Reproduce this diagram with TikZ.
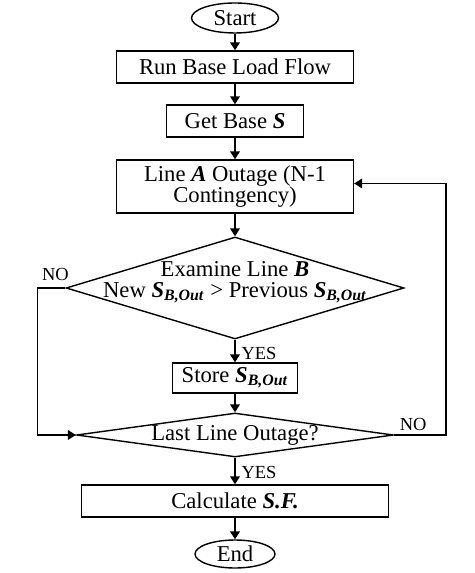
\documentclass[tikz,border=0pt]{standalone}
\usepackage{fontspec}
\setmainfont{Liberation Serif}
\usepackage{tikz}
\usetikzlibrary{positioning,calc,shapes.geometric,arrows.meta}
\newcommand{\bi}[1]{\textbf{\textit{#1}}}
\newcommand{\SBout}{\bi{S}\textsubscript{\bi{B,Out}}}

\begin{document}
\begin{tikzpicture}[
            x=0.02cm, y=-0.02cm,
            font=\fontsize{12.9}{12}\selectfont,
            terminal/.style={draw, ellipse, inner sep=0pt},
            process/.style={draw, rectangle, inner sep=0pt, align=center},
            decision/.style={draw, diamond, inner sep=0pt},
            answer/.style={font=\fontsize{10.5}{12}\selectfont, inner sep=0pt},
            >={Triangle[length=4.5pt,width=5.5pt]},
            thick
        ]
        \useasboundingbox (0,0) rectangle (474,573);

        % Start and base case
        \node[terminal, minimum width=1.74cm, minimum height=0.6cm] (start) at (235,18) {Start};
        \node[process, minimum width=4.74cm, minimum height=0.64cm] (run) at (235,67) {Run Base Load Flow};
        \node[process, minimum width=2.74cm, minimum height=0.64cm] (getbase) at (235,121) {Get Base \bi{S}};

        % Line A outage
        \node[process, minimum width=4.74cm, minimum height=1.06cm] (outage) at (235,186.5) {Line \bi{A} Outage (N-1\\Contingency)};

        % Examine line B
        \node[decision, minimum width=6.76cm, minimum height=2.04cm] (examine) at (235,288) {};
        \node[align=center, inner sep=0pt] (examinetext) at ($(examine) + (0,-6)$)
            {Examine Line \bi{B}\\New \SBout{} > Previous \SBout};

        % Store
        \node[process, minimum width=2.5cm, minimum height=0.6cm] (store) at (235,378) {Store \SBout};

        % Last line check
        \node[decision, minimum width=6.34cm, minimum height=0.88cm] (check) at (235,435) {};
        \node[inner sep=0pt] (checktext) at (check) {Last Line Outage?};

        % End
        \node[process, minimum width=6.14cm, minimum height=0.64cm] (calc) at (235,501) {Calculate \bi{S.F.}};
        \node[terminal, minimum width=1.6cm, minimum height=0.56cm] (end) at (235,554) {End};

        % Labels on the branches
        \node[answer] (yesstore) at ($(examine.south) + (24,14)$) {YES};
        \node[answer] (yescalc) at ($(check.south) + (24,15)$) {YES};
        \node[answer] (nostore) at ($(examine.west) + (-10,-14)$) {NO};
        \node[answer] (nonext) at ($(check.east) + (19,-11)$) {NO};

        % Main flow
        \draw[->] (start) -- (run);
        \draw[->] (run) -- (getbase);
        \draw[->] (getbase) -- (outage);
        \draw[->] (outage) -- (examine);
        \draw[->] (examine) -- (store);
        \draw[->] (store) -- (check);
        \draw[->] (check) -- (calc);
        \draw[->] (calc) -- (end);

        % Loops
        \draw[->] (examine.west) -- ++(-28,0) |- (check.west);
        \draw[->] (check.east) -- ++(52,0) |- ($(outage.east) + (0,-3)$);

        \end{tikzpicture}
\end{document}
